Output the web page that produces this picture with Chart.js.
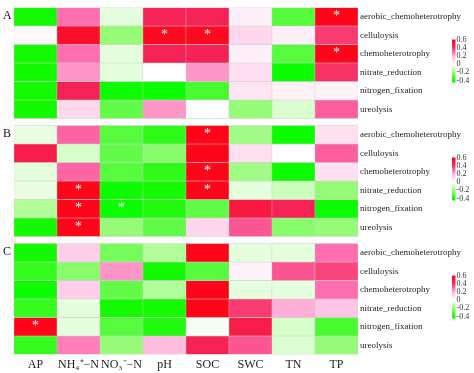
<!DOCTYPE html>
<html>
<head>
<meta charset="utf-8">
<script src="https://cdn.jsdelivr.net/npm/chart.js@4/dist/chart.umd.min.js"></script>
<style>
  html, body { margin: 0; padding: 0; background: #fff; }
  #wrap { width: 474px; height: 373px; }
</style>
</head>
<body>
<div id="wrap"><canvas id="heat" width="474" height="373"></canvas></div>
<script>
// columns (soil factors) and rows (functional groups)
const factors = ['AP', 'NH\u2084\u207A\u2212N', 'NO\u2083\u207B\u2212N', 'pH', 'SOC', 'SWC', 'TN', 'TP'];
const groups = ['aerobic_chemoheterotrophy', 'celluloysis', 'chemoheterotrophy', 'nitrate_reduction', 'nitrogen_fixation', 'ureolysis'];
const panels = ['A', 'B', 'C'];

// correlation values, one row per group
const valsA = [
  [-0.40, 0.30, -0.05, 0.45, 0.45, 0.05, -0.30, 0.60],
  [0.02, 0.55, -0.20, 0.58, 0.58, 0.12, 0.05, 0.40],
  [-0.40, 0.30, -0.05, 0.45, 0.45, 0.05, -0.30, 0.60],
  [-0.40, 0.25, -0.05, 0.00, 0.25, 0.10, -0.42, 0.42],
  [-0.40, 0.45, -0.42, -0.42, -0.32, 0.08, 0.04, 0.04],
  [-0.40, 0.12, -0.28, 0.25, 0.00, -0.20, -0.07, 0.33]
];
const valsB = [
  [-0.04, 0.32, -0.30, -0.36, 0.60, -0.18, -0.42, 0.10],
  [0.48, -0.08, -0.28, -0.22, 0.60, 0.10, 0.00, 0.33],
  [-0.05, 0.32, -0.30, -0.36, 0.60, -0.18, -0.42, 0.10],
  [-0.04, 0.60, -0.42, -0.40, 0.60, -0.05, -0.10, -0.20],
  [-0.15, 0.60, -0.42, -0.38, -0.28, 0.50, 0.45, -0.42],
  [-0.40, 0.60, -0.20, -0.28, 0.12, 0.35, -0.22, -0.20]
];
const valsC = [
  [-0.40, 0.15, -0.25, -0.15, 0.60, -0.05, -0.05, 0.30],
  [-0.35, -0.22, 0.25, -0.40, -0.30, 0.04, 0.35, 0.38],
  [-0.42, 0.15, -0.28, -0.15, 0.60, -0.05, -0.05, 0.30],
  [-0.35, -0.05, -0.40, -0.40, 0.60, 0.40, 0.22, 0.18],
  [0.60, -0.05, -0.30, -0.38, -0.02, 0.48, -0.08, -0.32],
  [-0.35, 0.28, -0.20, 0.20, 0.45, 0.35, -0.07, -0.20]
];
// significant cells [row, column]
const starsA = [[0, 7], [1, 3], [1, 4], [2, 7]];
const starsB = [[0, 4], [2, 4], [3, 1], [3, 4], [4, 1], [4, 2], [5, 1]];
const starsC = [[4, 0]];
const legendTicks = [0.6, 0.4, 0.2, 0, -0.2, -0.4];

const allVals = [valsA, valsB, valsC];
const allStars = [starsA, starsB, starsC];
const GAP = 0.38;
const panelTop = p => p * (groups.length + GAP);

const stops = [
  [-0.45, [0, 255, 0]], [-0.4, [20, 250, 0]], [-0.2, [150, 252, 120]], [0, [255, 255, 255]],
  [0.2, [255, 190, 225]], [0.3, [255, 110, 175]], [0.45, [245, 35, 85]], [0.6, [255, 5, 25]], [0.65, [255, 0, 20]]
];
function colorFor(v) {
  if (v <= stops[0][0]) return 'rgb(' + stops[0][1].join(',') + ')';
  for (let i = 1; i < stops.length; i++) {
    if (v <= stops[i][0]) {
      const [a, ca] = stops[i - 1], [b, cb] = stops[i];
      const t = (v - a) / (b - a);
      const c = ca.map((x, k) => Math.round(x + (cb[k] - x) * t));
      return 'rgb(' + c.join(',') + ')';
    }
  }
  return 'rgb(' + stops[stops.length - 1][1].join(',') + ')';
}

const datasets = [];
allVals.forEach((vals, p) => {
  vals.forEach((row, r) => {
    const y0 = panelTop(p) + r;
    datasets.push({
      data: factors.map((f, j) => ({ x: f, y: [y0, y0 + 1] })),
      backgroundColor: row.map(colorFor),
      borderColor: '#c4c4c4',
      borderWidth: 0.5,
      borderSkipped: false,
      grouped: false,
      barPercentage: 1,
      categoryPercentage: 1
    });
  });
});

const rowCenters = [];
panels.forEach((_, p) => groups.forEach((g, r) => rowCenters.push({ value: panelTop(p) + r + 0.5, label: g })));

const extras = {
  id: 'extras',
  afterDatasetsDraw(chart) {
    const ctx = chart.ctx, xs = chart.scales.x, ys = chart.scales.y;
    ctx.save();
    // significance asterisks
    ctx.fillStyle = '#fff';
    ctx.font = '14px "Liberation Serif"';
    ctx.textAlign = 'center';
    ctx.textBaseline = 'middle';
    allStars.forEach((list, p) => list.forEach(([r, j]) => {
      ctx.fillText('*', xs.getPixelForValue(j), ys.getPixelForValue(panelTop(p) + r + 0.5));
    }));
    // panel letters and colour bars
    panels.forEach((name, p) => {
      const top = ys.getPixelForValue(panelTop(p));
      ctx.fillStyle = '#111';
      ctx.font = '12px "Liberation Serif"';
      ctx.textAlign = 'left';
      ctx.textBaseline = 'top';
      ctx.fillText(name, 3, top + 2);

      const barTop = top + 32, barH = 43, x0 = 452;
      const g = ctx.createLinearGradient(0, barTop, 0, barTop + barH);
      const vmax = 0.62, vmin = -0.45;
      stops.forEach(([v]) => {
        if (v >= vmin && v <= vmax) g.addColorStop((vmax - v) / (vmax - vmin), colorFor(v));
      });
      g.addColorStop(0, colorFor(vmax));
      g.addColorStop(1, colorFor(vmin));
      ctx.fillStyle = g;
      ctx.fillRect(x0, barTop, 3.5, barH);
      ctx.fillStyle = '#333';
      ctx.font = '8px "Liberation Serif"';
      ctx.textBaseline = 'middle';
      legendTicks.forEach(t => {
        const y = barTop + (0.6 - t) / 1.0 * 41;
        ctx.fillText(t === 0 ? '0' : t.toFixed(1), 456.5, y);
      });
    });
    ctx.restore();
  }
};

new Chart(document.getElementById('heat'), {
  type: 'bar',
  data: { labels: factors, datasets: datasets },
  options: {
    responsive: false,
    animation: false,
    layout: { padding: { left: 14, top: 7.5, right: 0, bottom: 0 } },
    plugins: { legend: { display: false }, tooltip: { enabled: false } },
    scales: {
      x: {
        type: 'category',
        grid: { display: false, drawTicks: false },
        border: { display: false },
        ticks: { color: '#222', padding: 3, autoSkip: false, maxRotation: 0, font: { family: 'Liberation Serif', size: 12 } },
        afterFit(s) { s.height = 18.5; }
      },
      y: {
        type: 'linear',
        position: 'right',
        reverse: true,
        min: 0,
        max: panelTop(3) - GAP,
        grid: { display: false, drawTicks: false },
        border: { display: false },
        afterBuildTicks(s) { s.ticks = rowCenters.map(t => ({ value: t.value })); },
        ticks: {
          color: '#222',
          padding: 2,
          autoSkip: false,
          font: { family: 'Liberation Serif', size: 9 },
          callback(v) {
            const hit = rowCenters.find(t => Math.abs(t.value - v) < 1e-6);
            return hit ? hit.label : '';
          }
        },
        afterFit(s) { s.width = 116; }
      }
    }
  },
  plugins: [extras]
});
</script>
</body>
</html>
